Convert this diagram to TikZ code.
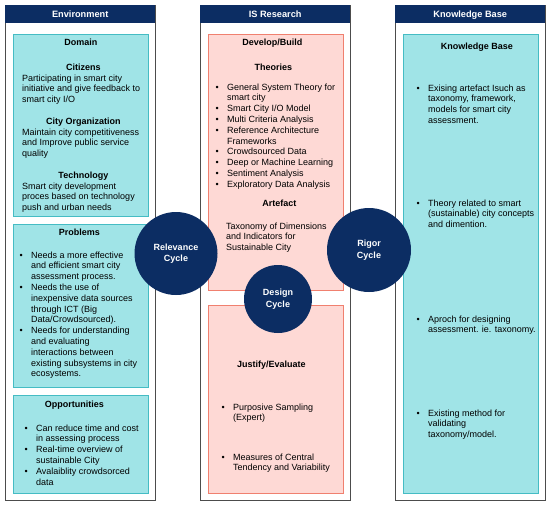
\documentclass[tikz,border=0pt]{standalone}
\usepackage{fontspec}
\setmainfont{Liberation Sans}
\usepackage{tikz}
\usetikzlibrary{positioning}
\definecolor{navy}{HTML}{0C2D63}
\definecolor{aqua}{HTML}{A0E4E7}
\definecolor{aquaedge}{HTML}{45BCC4}
\definecolor{rose}{HTML}{FED9D5}
\definecolor{roseedge}{HTML}{F0806F}
\newcommand{\bul}{\makebox[11.5pt][l]{\textbullet}}
\newcommand{\blines}[1]{\begin{tabular}[t]{@{}l@{}l@{}}#1\end{tabular}}
\newcommand{\plines}[1]{\begin{tabular}[t]{@{}l@{}}#1\end{tabular}}
\tikzset{
% columns and boxes
column/.style={rectangle, draw=black!70, line width=0.8pt, anchor=north west,
  minimum width=150pt, minimum height=495pt, inner sep=0},
header/.style={rectangle, fill=navy, anchor=north west, minimum width=150pt,
  minimum height=18pt, inner sep=0, text height=6.6pt, text depth=0pt,
  text=white, font=\bfseries\fontsize{9.2}{11}\selectfont},
envbox/.style={rectangle, draw=aquaedge, fill=aqua, line width=0.8pt, anchor=north west,
  minimum width=135pt, inner sep=0},
resbox/.style={rectangle, draw=roseedge, fill=rose, line width=0.8pt, anchor=north west,
  minimum width=135pt, inner sep=0},
% texts
title/.style={anchor=base, inner sep=0, font=\bfseries\fontsize{9}{10.8}\selectfont},
body/.style={anchor=base west, inner sep=0, font=\fontsize{9}{10.8}\selectfont},
cyc/.style={circle, fill=navy, inner sep=0, align=center, text=white,
  font=\bfseries\fontsize{9}{11.4}\selectfont}
}
\begin{document}
\begin{tikzpicture}[x=1pt, y=-1pt]
  \useasboundingbox[fill=white] (0,0) rectangle (550,507);

  % Environment
  \node[column] (env) at (5,5) {};
  \node[header] (envhead) at (5,5) {Environment};
  \node[envbox, minimum height=182pt] (dom) at (13,34) {};
  \node[title] (domtitle) at ([yshift=-11pt]dom.north) {Domain};
  \node[title] (citizens) at ([xshift=2.5pt, yshift=-36pt]dom.north) {Citizens};
  \node[body] (citizenstxt) at ([xshift=9pt, yshift=-47pt]dom.north west)
    {\plines{Participating in smart city\\initiative and give feedback to\\smart city I/O}};
  \node[title] (cityorg) at ([xshift=2.5pt, yshift=-90pt]dom.north) {City Organization};
  \node[body] (cityorgtxt) at ([xshift=9pt, yshift=-101pt]dom.north west)
    {\plines{Maintain city competitiveness\\and Improve public service\\quality}};
  \node[title] (tech) at ([xshift=2.5pt, yshift=-144pt]dom.north) {Technology};
  \node[body] (techtxt) at ([xshift=9pt, yshift=-155pt]dom.north west)
    {\plines{Smart city development\\proces based on technology\\push and urban needs}};

  \node[envbox, minimum height=163pt] (prob) at (13,224) {};
  \node[title] (probtitle) at ([xshift=-1.5pt, yshift=-11pt]prob.north) {Problems};
  \node[body] (problist) at ([xshift=6.4pt, yshift=-34pt]prob.north west)
    {\blines{\bul & Needs a more effective\\ & and efficient smart city\\ & assessment process.\\
     \bul & Needs the use of\\ & inexpensive data sources\\ & through ICT (Big\\ & Data/Crowdsourced).\\
     \bul & Needs for understanding\\ & and evaluating\\ & interactions between\\
     & existing subsystems in city\\ & ecosystems.}};

  \node[envbox, minimum height=98pt] (opp) at (13,395) {};
  \node[title] (opptitle) at ([xshift=-6.5pt, yshift=-12pt]opp.north) {Opportunities};
  \node[body] (opplist) at ([xshift=11.4pt, yshift=-36pt]opp.north west)
    {\blines{\bul & Can reduce time and cost\\ & in assessing process\\
     \bul & Real-time overview of\\ & sustainable City\\
     \bul & Avalaiblity crowdsorced\\ & data}};

  % IS Research
  \node[column] (res) at (200,5) {};
  \node[header] (reshead) at (200,5) {IS Research};
  \node[resbox, minimum height=256pt] (dev) at (208,34) {};
  \node[title] (devtitle) at ([xshift=-3.5pt, yshift=-11pt]dev.north) {Develop/Build};
  \node[title] (theories) at ([xshift=-2.5pt, yshift=-36pt]dev.north) {Theories};
  \node[body] (theorylist) at ([xshift=7.4pt, yshift=-56pt]dev.north west)
    {\blines{\bul & General System Theory for\\ & smart city\\
     \bul & Smart City I/O Model\\ \bul & Multi Criteria Analysis\\
     \bul & Reference Architecture\\ & Frameworks\\ \bul & Crowdsourced Data\\
     \bul & Deep or Machine Learning\\ \bul & Sentiment Analysis\\
     \bul & Exploratory Data Analysis}};
  \node[title] (artefact) at ([xshift=3.5pt, yshift=-172pt]dev.north) {Artefact};
  \node[body] (artefacttxt) at ([xshift=18pt, yshift=-195pt]dev.north west)
    {\plines{Taxonomy of Dimensions\\and Indicators for\\Sustainable City}};

  \node[resbox, minimum height=188pt] (jus) at (208,305) {};
  \node[title] (justitle) at ([xshift=-4.5pt, yshift=-62pt]jus.north) {Justify/Evaluate};
  \node[body] (sampling) at ([xshift=13.4pt, yshift=-105pt]jus.north west)
    {\blines{\bul & Purposive Sampling\\ & (Expert)}};
  \node[body] (measures) at ([xshift=13.4pt, yshift=-155pt]jus.north west)
    {\blines{\bul & Measures of Central\\ & Tendency and Variability}};

  % Knowledge Base
  \node[column] (kb) at (395,5) {};
  \node[header] (kbhead) at (395,5) {Knowledge Base};
  \node[envbox, minimum height=459pt] (kbbox) at (403,34) {};
  \node[title] (kbtitle) at ([xshift=6pt, yshift=-15pt]kbbox.north) {Knowledge Base};
  \node[body] (kbart) at ([xshift=13.4pt, yshift=-57pt]kbbox.north west)
    {\blines{\bul & Exising artefact Isuch as\\ & taxonomy, framework,\\ & models for smart city\\ & assessment.}};
  \node[body] (kbtheory) at ([xshift=13.4pt, yshift=-172pt]kbbox.north west)
    {\blines{\bul & Theory related to smart\\ & (sustainable) city concepts\\ & and dimention.}};
  \node[body] (kbapproach) at ([xshift=13.4pt, yshift=-288pt]kbbox.north west)
    {\blines{\bul & Aproch for designing\\ & assessment. ie. taxonomy.}};
  \node[body] (kbmethod) at ([xshift=13.4pt, yshift=-382pt]kbbox.north west)
    {\blines{\bul & Existing method for\\ & validating\\ & taxonomy/model.}};

  % cycles
  \node[cyc, minimum size=83pt] (relevance) at (176,253.5) {Relevance\\Cycle};
  \node[cyc, minimum size=84pt] (rigor) at (369,250) {Rigor\\Cycle};
  \node[cyc, minimum size=68pt] (design) at (278,299) {Design\\Cycle};
\end{tikzpicture}
\end{document}
